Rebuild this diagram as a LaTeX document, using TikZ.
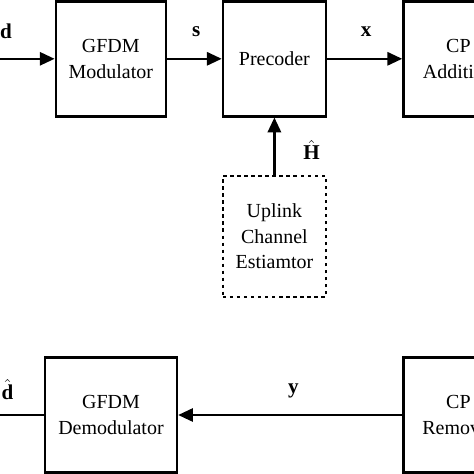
\documentclass[tikz,border=0pt]{standalone}
\usepackage{amsmath}
\usepackage{fontspec}
\setmainfont{Liberation Serif}
\usepackage{tikz}
\usetikzlibrary{arrows.meta,positioning}

\begin{document}
\begin{tikzpicture}[
  x=1cm, y=1cm,
  block/.style={draw=black, line width=1.7pt, minimum width=2.75cm, minimum height=2.875cm,
    align=center, inner sep=2pt, font=\fontsize{14.2}{18.5}\selectfont},
  estbox/.style={block, dash pattern=on 2.4pt off 2.6pt, minimum width=2.575cm, minimum height=3.025cm,
    font=\fontsize{14.2}{18}\selectfont},
  sig/.style={-{Triangle[length=0.37cm, width=0.33cm]}, line width=1.7pt},
  lbl/.style={font=\fontsize{15}{16}\selectfont\bfseries, inner sep=0pt}
]
  \useasboundingbox (0,0) rectangle (11.85,-11.85);
  \clip (0,0) rectangle (11.85,-11.85);

  % Downlink (top row)
  \coordinate (in) at (-1.0,-1.47);
  \node[block] (mod)   at ( 2.77,-1.47) {GFDM\\Modulator};
  \node[block, minimum width=2.575cm] (pre) at ( 6.86,-1.47) {Precoder};
  \node[block] (cpadd) at (11.46,-1.47) {CP\\Addition};

  % Channel estimate from uplink
  \node[estbox] (est) at (6.86,-5.91) {Uplink\\Channel\\Estiamtor};

  % Receiver (bottom row)
  \coordinate (out) at (-1.0,-10.375);
  \node[block, minimum width=3.3cm] (demod) at ( 2.775,-10.375) {GFDM\\Demodulator};
  \node[block] (cprem) at (11.46,-10.375) {CP\\Removal};

  % Connectors
  \draw[sig] (in) -- node[lbl, midway, xshift=-0.03cm, yshift=0.69cm] {d} (mod.west);
  \draw[sig] (mod) -- node[lbl, midway, xshift=0.05cm, yshift=0.67cm] {s} (pre);
  \draw[sig] (pre) -- node[lbl, midway, xshift=0.04cm, yshift=0.67cm] {x} (cpadd);
  \draw[sig] (est) -- node[lbl, midway, xshift=0.93cm, yshift=-0.1cm] {$\hat{\text{\bfseries H}}$} (pre);
  \draw[sig] (cprem) -- node[lbl, midway, xshift=0.08cm, yshift=0.6cm] {y} (demod);
  \draw[line width=1.7pt] (demod.west) -- node[lbl, midway, xshift=0.14cm, yshift=0.63cm] {$\hat{\text{\bfseries d}}$} (out);

\end{tikzpicture}
\end{document}
